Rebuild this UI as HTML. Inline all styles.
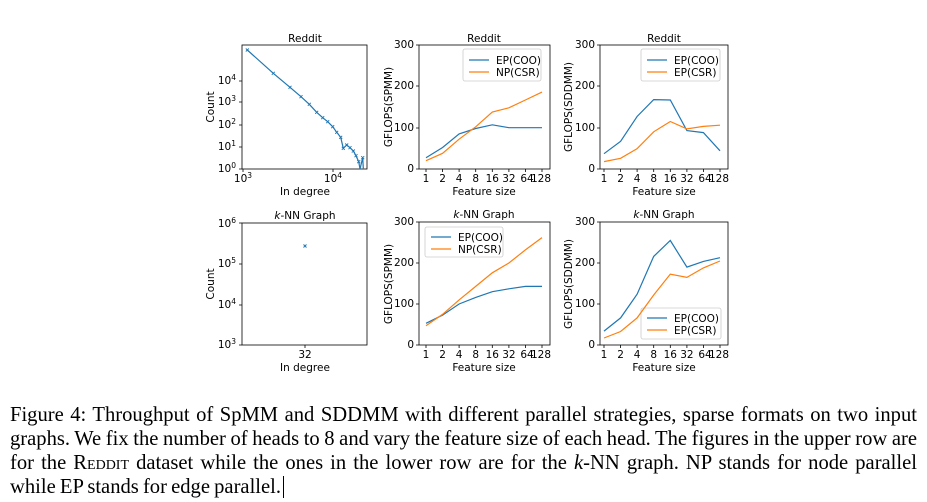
<!DOCTYPE html>
<html><head><style>
body{margin:0;background:#fff;width:927px;height:502px;overflow:hidden;position:relative}
svg{position:absolute;left:0;top:0}
svg text{font-family:"DejaVu Sans","Liberation Sans",sans-serif;font-size:10.5px;fill:#000}
.cap{position:absolute;left:10px;top:403px;width:907px;font-family:"Liberation Serif",serif;font-size:20.6px;line-height:24px;color:#000;word-spacing:-1px}
.cap div{text-align:justify;text-align-last:justify;white-space:nowrap}
.cap div.last{text-align:left;text-align-last:left}
.sc{font-variant:small-caps}
</style></head><body>
<svg width="927" height="400" viewBox="0 0 927 400">
<g fill="none" stroke="#000" stroke-width="0.8">
<rect x="242" y="45" width="125" height="124"/>
<rect x="419" y="45" width="131" height="124"/>
<rect x="600" y="45" width="128" height="124"/>
<rect x="242" y="223" width="125" height="122"/>
<rect x="419" y="222" width="131" height="123"/>
<rect x="600" y="222" width="128" height="123"/>
<path d="M242 169h-3M242 147h-3M242 125h-3M242 102h-3M242 81h-3M243 169v3M333 169v3"/>
<path d="M242 223h-3M242 264h-3M242 305h-3M242 345h-3M305 345v3"/>
<path d="M419 169h-3M419 128h-3M419 86h-3M419 45h-3"/>
<path d="M600 169h-3M600 128h-3M600 86h-3M600 45h-3"/>
<path d="M419 345h-3M419 304h-3M419 263h-3M419 222h-3"/>
<path d="M600 345h-3M600 304h-3M600 263h-3M600 222h-3"/>
<path d="M426 169v3M442.6 169v3M459.1 169v3M475.7 169v3M492.3 169v3M508.9 169v3M525.4 169v3M542 169v3"/>
<path d="M604 169v3M620.6 169v3M637.1 169v3M653.7 169v3M670.3 169v3M686.9 169v3M703.4 169v3M720 169v3"/>
<path d="M426 345v3M442.6 345v3M459.1 345v3M475.7 345v3M492.3 345v3M508.9 345v3M525.4 345v3M542 345v3"/>
<path d="M604 345v3M620.6 345v3M637.1 345v3M653.7 345v3M670.3 345v3M686.9 345v3M703.4 345v3M720 345v3"/>
</g>
<g fill="#fff" stroke="#ccc" stroke-width="0.8">
<rect x="463" y="49" width="78" height="32" rx="2"/>
<rect x="641" y="49" width="79" height="32" rx="2"/>
<rect x="425" y="227" width="78" height="30" rx="2"/>
<rect x="641" y="308" width="80" height="31" rx="2"/>
</g>
<g fill="none" stroke-width="1.2">
<polyline stroke="#1f77b4" points="247.3,50 273.3,73.3 290,87.3 301,96.7 309.3,104.3 316.7,112.3 322.7,117.7 327.7,121.7 332.7,126.7 336.7,132.3 340.7,137.3 343.3,148.3 346.7,145 350,147.7 353.3,151 356,155.7 358.7,161.7 360,169 362.7,157.7 363.3,168.3"/>
<path stroke="#1f77b4" stroke-width="0.9" d="M245.8 48.5l3 3M248.8 48.5l-3 3M271.8 71.8l3 3M274.8 71.8l-3 3M288.5 85.8l3 3M291.5 85.8l-3 3M299.5 95.2l3 3M302.5 95.2l-3 3M307.8 102.8l3 3M310.8 102.8l-3 3M315.2 110.8l3 3M318.2 110.8l-3 3M321.2 116.2l3 3M324.2 116.2l-3 3M326.2 120.2l3 3M329.2 120.2l-3 3M331.2 125.2l3 3M334.2 125.2l-3 3M335.2 130.8l3 3M338.2 130.8l-3 3M339.2 135.8l3 3M342.2 135.8l-3 3M341.8 146.8l3 3M344.8 146.8l-3 3M345.2 143.5l3 3M348.2 143.5l-3 3M348.5 146.2l3 3M351.5 146.2l-3 3M351.8 149.5l3 3M354.8 149.5l-3 3M354.5 154.2l3 3M357.5 154.2l-3 3M357.2 160.2l3 3M360.2 160.2l-3 3M361.2 156.2l3 3M364.2 156.2l-3 3"/>
<polyline stroke="#1f77b4" points="426,157.8 442.6,147.5 459.1,133.9 475.7,128.5 492.3,124.8 508.9,127.7 525.4,127.7 542,127.7"/>
<polyline stroke="#ff7f0e" points="426,160.7 442.6,153.3 459.1,139.2 475.7,126.8 492.3,112 508.9,107.8 525.4,100 542,92.1"/>
<polyline stroke="#1f77b4" points="604,153.7 620.6,141.3 637.1,116.5 653.7,99.6 670.3,100 686.9,130.6 703.4,132.6 720,150.8"/>
<polyline stroke="#ff7f0e" points="604,161.6 620.6,158.3 637.1,148.7 653.7,131.8 670.3,121.5 686.9,128.9 703.4,126.4 720,125.2"/>
<polyline stroke="#1f77b4" points="426,323.3 442.6,315.1 459.1,304 475.7,297.4 492.3,291.7 508.9,288.8 525.4,286.4 542,286.4"/>
<polyline stroke="#ff7f0e" points="426,325.7 442.6,314.3 459.1,299.9 475.7,286.4 492.3,272.8 508.9,263 525.4,249.9 542,237.6"/>
<polyline stroke="#1f77b4" points="604,331.1 620.6,317.9 637.1,294.2 653.7,256.4 670.3,240.5 686.9,267.1 703.4,261.4 720,257.7"/>
<polyline stroke="#ff7f0e" points="604,338 620.6,331.5 637.1,317.9 653.7,295 670.3,274.1 686.9,277.4 703.4,267.9 720,261"/>
<path stroke="#1f77b4" d="M469 60h20M647 60h20M431 237h20M647 318h20"/>
<path stroke="#ff7f0e" d="M469 72h20M647 72h20M431 249h20M647 330h20"/>
<path stroke="#1f77b4" stroke-width="1" d="M303.5 244.5l3 3M306.5 244.5l-3 3"/>
</g>
<g text-anchor="middle">
<text x="305" y="42" font-size="11.5">Reddit</text>
<text x="484" y="42" font-size="11.5">Reddit</text>
<text x="664" y="42" font-size="11.5">Reddit</text>
<text x="305" y="219" font-size="11.5"><tspan font-style="italic">k</tspan>-NN Graph</text>
<text x="484" y="218" font-size="11.5"><tspan font-style="italic">k</tspan>-NN Graph</text>
<text x="664" y="218" font-size="11.5"><tspan font-style="italic">k</tspan>-NN Graph</text>
<text x="305" y="195">In degree</text>
<text x="305" y="371">In degree</text>
<text x="305" y="358">32</text>
<text x="484" y="195">Feature size</text>
<text x="664" y="195">Feature size</text>
<text x="484" y="371">Feature size</text>
<text x="664" y="371">Feature size</text>
<text x="243" y="182">10<tspan font-size="7.5" dy="-4">3</tspan></text>
<text x="333" y="182">10<tspan font-size="7.5" dy="-4">4</tspan></text>
<g font-size="10">
<text x="426" y="182">1</text><text x="442.6" y="182">2</text><text x="459.1" y="182">4</text><text x="475.7" y="182">8</text><text x="492.3" y="182">16</text><text x="508.9" y="182">32</text><text x="527" y="182">64</text><text x="541" y="182">128</text>
<text x="604" y="182">1</text><text x="620.6" y="182">2</text><text x="637.1" y="182">4</text><text x="653.7" y="182">8</text><text x="670.3" y="182">16</text><text x="686.9" y="182">32</text><text x="705" y="182">64</text><text x="719" y="182">128</text>
<text x="426" y="358">1</text><text x="442.6" y="358">2</text><text x="459.1" y="358">4</text><text x="475.7" y="358">8</text><text x="492.3" y="358">16</text><text x="508.9" y="358">32</text><text x="527" y="358">64</text><text x="541" y="358">128</text>
<text x="604" y="358">1</text><text x="620.6" y="358">2</text><text x="637.1" y="358">4</text><text x="653.7" y="358">8</text><text x="670.3" y="358">16</text><text x="686.9" y="358">32</text><text x="705" y="358">64</text><text x="719" y="358">128</text>
</g>
</g>
<g text-anchor="end">
<text x="236" y="172">10<tspan font-size="7.5" dy="-4">0</tspan></text>
<text x="236" y="150">10<tspan font-size="7.5" dy="-4">1</tspan></text>
<text x="236" y="128">10<tspan font-size="7.5" dy="-4">2</tspan></text>
<text x="236" y="105">10<tspan font-size="7.5" dy="-4">3</tspan></text>
<text x="236" y="84">10<tspan font-size="7.5" dy="-4">4</tspan></text>
<text x="236" y="348">10<tspan font-size="7.5" dy="-4">3</tspan></text>
<text x="236" y="308">10<tspan font-size="7.5" dy="-4">4</tspan></text>
<text x="236" y="267">10<tspan font-size="7.5" dy="-4">5</tspan></text>
<text x="236" y="227">10<tspan font-size="7.5" dy="-4">6</tspan></text>
<text x="414" y="172">0</text><text x="414" y="131">100</text><text x="414" y="89">200</text><text x="414" y="48">300</text>
<text x="595" y="172">0</text><text x="595" y="131">100</text><text x="595" y="89">200</text><text x="595" y="48">300</text>
<text x="414" y="348">0</text><text x="414" y="307">100</text><text x="414" y="266">200</text><text x="414" y="225">300</text>
<text x="595" y="348">0</text><text x="595" y="307">100</text><text x="595" y="266">200</text><text x="595" y="225">300</text>
</g>
<text x="496" y="64">EP(COO)</text><text x="496" y="76">NP(CSR)</text>
<text x="674" y="64">EP(COO)</text><text x="674" y="76">EP(CSR)</text>
<text x="458" y="241">EP(COO)</text><text x="458" y="253">NP(CSR)</text>
<text x="674" y="322">EP(COO)</text><text x="674" y="334">EP(CSR)</text>
<g text-anchor="middle">
<text transform="translate(214,107) rotate(-90)">Count</text>
<text transform="translate(214,284) rotate(-90)">Count</text>
<text transform="translate(392,107) rotate(-90)">GFLOPS(SPMM)</text>
<text transform="translate(572,107) rotate(-90)">GFLOPS(SDDMM)</text>
<text transform="translate(392,284) rotate(-90)">GFLOPS(SPMM)</text>
<text transform="translate(572,284) rotate(-90)">GFLOPS(SDDMM)</text>
</g>
</svg>
<div class="cap">
<div>Figure 4: Throughput of SpMM and SDDMM with different parallel strategies, sparse formats on two input</div>
<div>graphs. We fix the number of heads to 8 and vary the feature size of each head. The figures in the upper row are</div>
<div>for the <span class="sc">Reddit</span> dataset while the ones in the lower row are for the <i>k</i>-NN graph. NP stands for node parallel</div>
<div class="last">while EP stands for edge parallel.<span style="border-left:1px solid #000;margin-left:2px"></span></div>
</div>
</body></html>
